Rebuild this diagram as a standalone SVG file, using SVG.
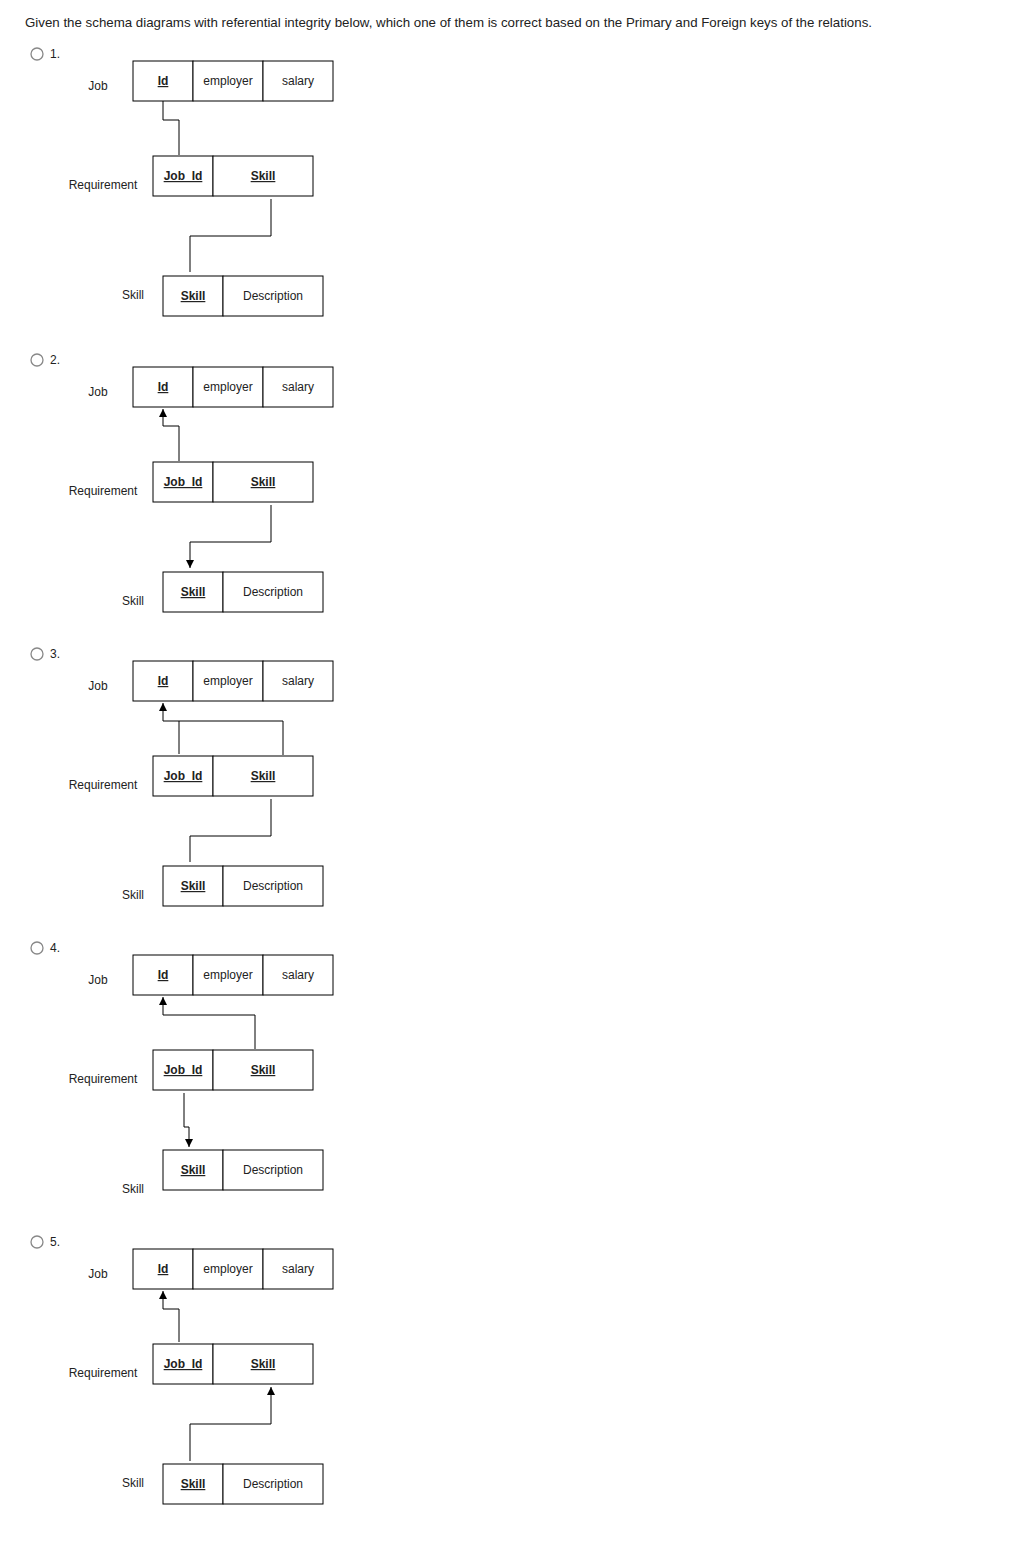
<svg xmlns="http://www.w3.org/2000/svg" width="1020" height="1564" viewBox="0 0 1020 1564">
<style>
text{font-family:"Liberation Sans",Arial,sans-serif;font-size:12px;fill:#222}
.t{font-size:13.3px}
.c{text-anchor:middle}
.k{font-weight:bold;text-decoration:underline}
rect{fill:#fff;stroke:#000;stroke-width:1}
.cn path{fill:none;stroke:#000;stroke-width:1}
.r{fill:#fff;stroke:#888;stroke-width:1.3}
</style>
<defs>
<marker id="a" viewBox="0 0 10 10" refX="10" refY="5" markerWidth="8" markerHeight="8" orient="auto" markerUnits="userSpaceOnUse"><path d="M0,0L10,5L0,10z" fill="#000"/></marker>
<g id="job"><rect x="133" y="0" width="60" height="40"/><rect x="193" y="0" width="70" height="40"/><rect x="263" y="0" width="70" height="40"/>
<text x="163" y="24" class="c k">Id</text><text x="228" y="24" class="c">employer</text><text x="298" y="24" class="c">salary</text><text x="98" y="29" class="c">Job</text></g>
<g id="req"><rect x="153" y="0" width="60" height="40"/><rect x="213" y="0" width="100" height="40"/>
<text x="183" y="24" class="c k">Job_Id</text><text x="263" y="24" class="c k">Skill</text><text x="103" y="33" class="c">Requirement</text></g>
<g id="sk"><rect x="163" y="0" width="60" height="40"/><rect x="223" y="0" width="100" height="40"/>
<text x="193" y="24" class="c k">Skill</text><text x="273" y="24" class="c">Description</text></g>
</defs>
<text x="25" y="27" class="t">Given the schema diagrams with referential integrity below, which one of them is correct based on the Primary and Foreign keys of the relations.</text>
<g id="o1"><circle cx="37" cy="54" r="6" class="r"/><text x="50" y="58">1.</text>
<use href="#job" y="61"/><use href="#req" y="156"/><use href="#sk" y="276"/><text x="133" y="299" class="c">Skill</text></g>
<g id="o2"><circle cx="37" cy="360" r="6" class="r"/><text x="50" y="364">2.</text>
<use href="#job" y="367"/><use href="#req" y="462"/><use href="#sk" y="572"/><text x="133" y="605" class="c">Skill</text></g>
<g id="o3"><circle cx="37" cy="654" r="6" class="r"/><text x="50" y="658">3.</text>
<use href="#job" y="661"/><use href="#req" y="756"/><use href="#sk" y="866"/><text x="133" y="899" class="c">Skill</text></g>
<g id="o4"><circle cx="37" cy="948" r="6" class="r"/><text x="50" y="952">4.</text>
<use href="#job" y="955"/><use href="#req" y="1050"/><use href="#sk" y="1150"/><text x="133" y="1193" class="c">Skill</text></g>
<g id="o5"><circle cx="37" cy="1242" r="6" class="r"/><text x="50" y="1246">5.</text>
<use href="#job" y="1249"/><use href="#req" y="1344"/><use href="#sk" y="1464"/><text x="133" y="1487" class="c">Skill</text></g>
<g class="cn" id="connectors">
<path d="M163,101V120H179V155"/><path d="M271,199V236H190V272"/>
<path d="M179,461V426H163V409" marker-end="url(#a)"/><path d="M271,505V542H190V568" marker-end="url(#a)"/>
<path d="M179,754V721H163V703" marker-end="url(#a)"/><path d="M283,755V721H179"/><path d="M271,799V836H190V862"/>
<path d="M255,1049V1015H163V997" marker-end="url(#a)"/><path d="M184,1093V1127H189V1147" marker-end="url(#a)"/>
<path d="M179,1342V1309H163V1291" marker-end="url(#a)"/><path d="M190,1461V1424H271V1387" marker-end="url(#a)"/>
</g>
</svg>
